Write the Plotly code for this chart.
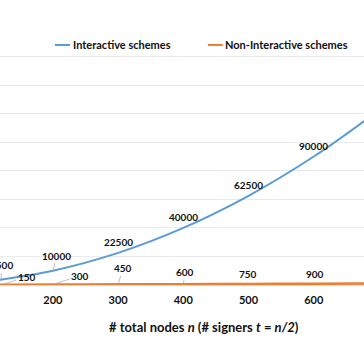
import plotly.graph_objects as go

# ---- data ----
nodes = [100, 200, 300, 400, 500, 600, 700]
interactive = [2500, 10000, 22500, 40000, 62500, 90000, 122500]
non_interactive = [150, 300, 450, 600, 750, 900, 1050]
series_names = ["Interactive schemes", "Non-Interactive schemes"]
x_ticks = [100, 200, 300, 400, 500, 600, 700]
x_title = "# total nodes <i>n</i> (# signers <i>t</i> = <i>n/2</i>)"

BLUE = "#5B9BD5"
ORANGE = "#ED7D31"
FONT = "Lato"
TXT = "#111111"
X_RANGE = [119, 677]
Y_RANGE = [0, 180000]

fig = go.Figure()
fig.add_trace(go.Scatter(x=nodes, y=interactive, mode="lines", name=series_names[0],
                         line=dict(color=BLUE, width=2, shape="spline"), showlegend=False))
fig.add_trace(go.Scatter(x=nodes, y=non_interactive, mode="lines", name=series_names[1],
                         line=dict(color=ORANGE, width=2.5, shape="spline"), showlegend=False))

# data label offsets (pixels) : (dx, dy, leader)
int_off = [(14, -16, True), (4, -15, True), (0, -11, False), (0, -11, False),
           (0, -11, False), (0, -11, False), (0, -11, False)]
non_off = [(39, -8, True), (27, -9, True), (5, -16, True), (2, -12, True),
           (-1, -10, False), (1, -10, False), (0, -10, False)]

label_font = dict(family=FONT, size=10, color=TXT, weight="bold")
annotations = []
for xs, ys, offs in ((nodes, interactive, int_off), (nodes, non_interactive, non_off)):
    for xv, yv, (dx, dy, leader) in zip(xs, ys, offs):
        if xv >= X_RANGE[0]:
            pos = dict(x=xv, y=yv, xref="x", yref="y")
        else:
            # point lies left of the visible x-range: anchor in paper space so the
            # (partially visible) label is still drawn, as in the cropped original
            pos = dict(x=(xv - X_RANGE[0]) / (X_RANGE[1] - X_RANGE[0]),
                       y=(yv - Y_RANGE[0]) / (Y_RANGE[1] - Y_RANGE[0]),
                       xref="paper", yref="paper")
        if leader:
            annotations.append(dict(**pos, text=f"{yv}", showarrow=True, ax=dx, ay=dy,
                                    arrowhead=0, arrowwidth=0.7, arrowcolor="#A6A6A6",
                                    standoff=0, font=label_font))
        else:
            annotations.append(dict(**pos, text=f"{yv}", showarrow=False,
                                    xshift=dx, yshift=-dy, font=label_font))

# legend (manual)
legend_items = [(0.151, BLUE, series_names[0]), (0.571, ORANGE, series_names[1])]
shapes = []
for x0, col, name in legend_items:
    shapes.append(dict(type="line", xref="paper", yref="paper", x0=x0, x1=x0 + 0.041,
                       y0=0.934, y1=0.934, line=dict(color=col, width=2)))
    annotations.append(dict(x=x0 + 0.043, y=0.934, xref="paper", yref="paper", text=name,
                            showarrow=False, xanchor="left", yanchor="middle",
                            font=dict(family=FONT, size=11, color=TXT, weight="bold")))

annotations.append(dict(x=0.56, y=-0.163, xref="paper", yref="paper", text=x_title,
                        showarrow=False, xanchor="center", yanchor="middle",
                        font=dict(family=FONT, size=13, color=TXT, weight="bold")))

fig.update_layout(
    width=364, height=364,
    margin=dict(l=0, r=0, t=28, b=79),
    paper_bgcolor="white", plot_bgcolor="white",
    annotations=annotations, shapes=shapes,
    xaxis=dict(range=X_RANGE, tickvals=x_ticks, showgrid=False, zeroline=False,
               showline=False, ticks="", ticklabelstandoff=7,
               tickfont=dict(family=FONT, size=11, color=TXT, weight="bold")),
    yaxis=dict(range=Y_RANGE, dtick=20000, showgrid=True, gridcolor="#EBEBEB",
               gridwidth=1, zeroline=True, zerolinecolor="#D9D9D9", showticklabels=False,
               ticks=""),
)

fig.write_html("out.html", config={"displayModeBar": False},
               post_script="document.body.style.margin='0';document.body.style.overflow='hidden';")
